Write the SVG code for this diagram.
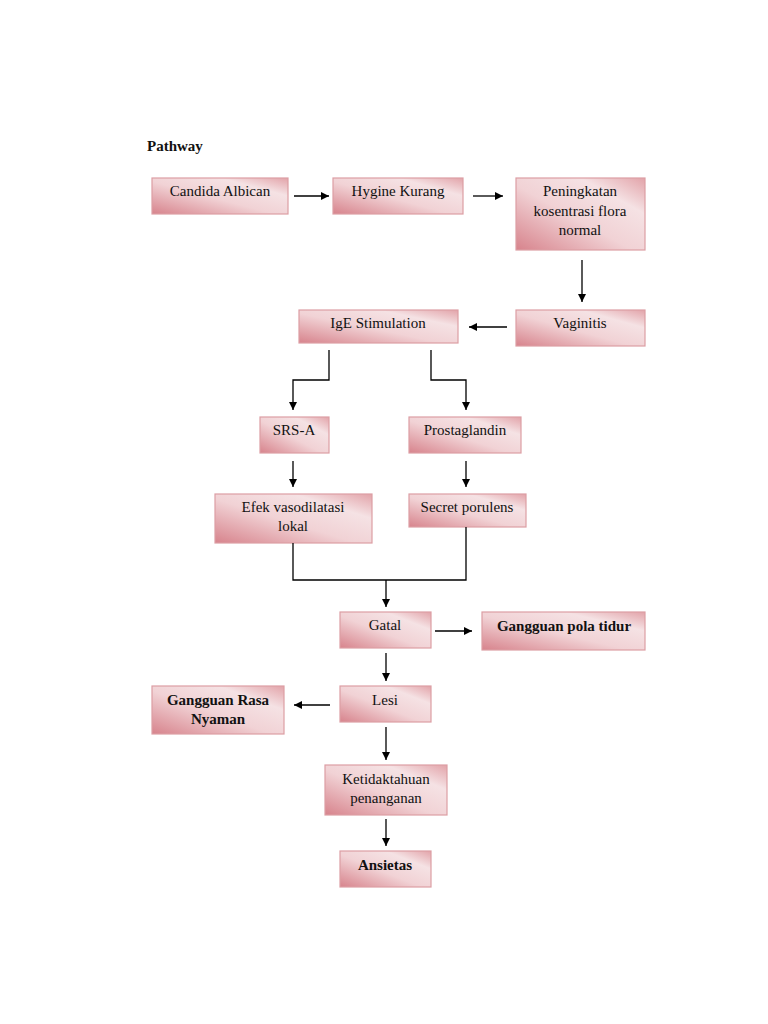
<svg xmlns="http://www.w3.org/2000/svg" width="768" height="1024" viewBox="0 0 768 1024">
<defs>
<linearGradient id="g" x1="0" y1="1" x2="1" y2="0">
<stop offset="0" stop-color="#d7838c"/>
<stop offset="0.45" stop-color="#f1d2d5"/>
<stop offset="0.75" stop-color="#f5e2e4"/>
<stop offset="1" stop-color="#e2a3a9"/>
</linearGradient>
<marker id="ah" viewBox="0 0 10 10" refX="10" refY="5" markerWidth="8" markerHeight="8" markerUnits="userSpaceOnUse" orient="auto">
<path d="M0,0 L10,5 L0,10 z" fill="#000"/>
</marker>
<style>
rect.b{fill:url(#g);stroke:#dc9ea4;stroke-width:1.2}
text{font-family:"Liberation Serif","Times New Roman",serif;font-size:15px;fill:#111;text-anchor:middle}
text.bd{font-weight:bold}
.c path,.c line{fill:none;stroke:#000;stroke-width:1.3}
.c .a{marker-end:url(#ah)}
</style>
</defs>
<rect width="768" height="1024" fill="#fff"/>
<text x="147" y="151" class="bd" style="text-anchor:start">Pathway</text>

<g id="candida"><rect class="b" x="152" y="178" width="136" height="36"/><text x="220" y="196">Candida Albican</text></g>
<g id="hygine"><rect class="b" x="333" y="178" width="130" height="36"/><text x="398" y="196">Hygine Kurang</text></g>
<g id="peningkatan"><rect class="b" x="516" y="178" width="129" height="72"/><text x="580" y="196">Peningkatan</text><text x="580" y="216">kosentrasi flora</text><text x="580" y="235">normal</text></g>
<g id="vaginitis"><rect class="b" x="516" y="310" width="129" height="36"/><text x="580" y="328">Vaginitis</text></g>
<g id="ige"><rect class="b" x="299" y="310" width="159" height="33"/><text x="378" y="328">IgE Stimulation</text></g>
<g id="srsa"><rect class="b" x="260" y="417" width="69" height="36"/><text x="294" y="435">SRS-A</text></g>
<g id="prostaglandin"><rect class="b" x="409" y="417" width="112" height="36"/><text x="465" y="435">Prostaglandin</text></g>
<g id="efek"><rect class="b" x="215" y="494" width="157" height="49"/><text x="293" y="512">Efek vasodilatasi</text><text x="293" y="531">lokal</text></g>
<g id="secret"><rect class="b" x="409" y="494" width="117" height="33"/><text x="467" y="512">Secret porulens</text></g>
<g id="gatal"><rect class="b" x="340" y="612" width="91" height="36"/><text x="385" y="630">Gatal</text></g>
<g id="pola"><rect class="b" x="482" y="612" width="163" height="38"/><text x="564" y="631" class="bd">Gangguan pola tidur</text></g>
<g id="rasa"><rect class="b" x="152" y="686" width="132" height="48"/><text x="218" y="705" class="bd">Gangguan Rasa</text><text x="218" y="724" class="bd">Nyaman</text></g>
<g id="lesi"><rect class="b" x="340" y="686" width="91" height="36"/><text x="385" y="705">Lesi</text></g>
<g id="ketid"><rect class="b" x="325" y="765" width="122" height="50"/><text x="386" y="784">Ketidaktahuan</text><text x="386" y="803">penanganan</text></g>
<g id="ansietas"><rect class="b" x="340" y="851" width="91" height="36"/><text x="385" y="870" class="bd">Ansietas</text></g>

<g id="connectors" class="c">
<line class="a" x1="294" y1="196" x2="329" y2="196"/>
<line class="a" x1="473" y1="196" x2="503" y2="196"/>
<line class="a" x1="582" y1="260" x2="582" y2="302"/>
<line class="a" x1="507" y1="327" x2="469" y2="327"/>
<path class="a" d="M329,350 V380 H293 V410"/>
<path class="a" d="M431,350 V380 H466 V410"/>
<line class="a" x1="293" y1="461" x2="293" y2="487"/>
<line class="a" x1="466" y1="461" x2="466" y2="487"/>
<path d="M293,543 V580 H466 V527"/>
<line class="a" x1="386" y1="580" x2="386" y2="607"/>
<line class="a" x1="435" y1="631" x2="472" y2="631"/>
<line class="a" x1="386" y1="653" x2="386" y2="681"/>
<line class="a" x1="330" y1="705" x2="294" y2="705"/>
<line class="a" x1="386" y1="727" x2="386" y2="760"/>
<line class="a" x1="386" y1="819" x2="386" y2="846"/>
</g>
</svg>
